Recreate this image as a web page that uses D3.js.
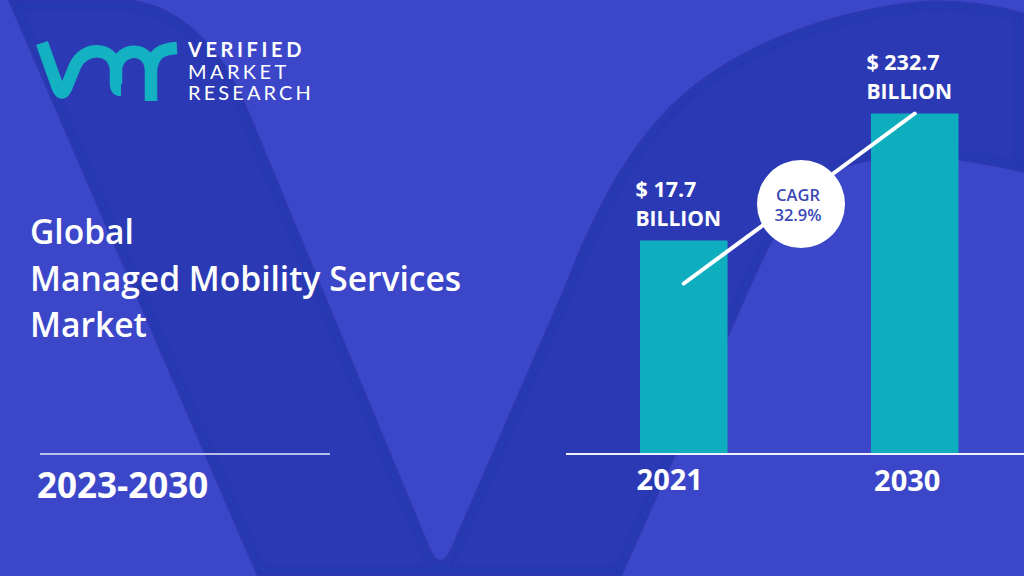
<!DOCTYPE html>
<html>
<head>
<meta charset="utf-8">
<title>Managed Mobility Services Market</title>
<script src="https://cdn.jsdelivr.net/npm/d3@7/dist/d3.min.js"></script>
<style>
    html, body { margin: 0; padding: 0; background: #3b47c8; overflow: hidden; }
    svg { display: block; }
    text { font-family: "Open Sans", sans-serif; fill: #fff; }
</style>
</head>
<body>
<div id="chart"></div>
<script>
// chart values
var aYears = ["2021", "2030"];
var aValues = [17.7, 232.7];
var aTitle = ["Global", "Managed Mobility Services", "Market"];
var aLogoWords = ["VERIFIED", "MARKET", "RESEARCH"];
var sPeriod = "2023-2030";
var aCagr = ["CAGR", "32.9%"];
var sUnit = "BILLION";

var iWidth = 1024;
var iHeight = 576;
var iBase = 454;

var dSVG = d3.select("#chart").append("svg")
    .attr("width", iWidth)
    .attr("height", iHeight);

var dDefs = dSVG.append("defs");
dDefs.append("filter").attr("id", "soft")
    .attr("x", "-10%").attr("y", "-10%").attr("width", "120%").attr("height", "120%")
    .append("feGaussianBlur").attr("stdDeviation", 6);

// background: big dark "V" swoosh behind everything
var sSwoosh = "M8,0 L133,0 C170,6 200,28 225,65 C233,78 240,92 247,107 L430,548 Q440,572 451,548 L564,288 " +
    "C585,235 620,150 680,97 C730,52 810,15 912,2 C950,-2 990,3 1024,13 L1024,173 " +
    "C930,150 870,155 832,173 C790,200 768,248 750,288 L622,576 L257,576 Z";

dDefs.append("clipPath").attr("id", "swooshClip").append("path").attr("d", sSwoosh);

dSVG.append("rect").attr("width", iWidth).attr("height", iHeight).attr("fill", "#3b47c8");
dSVG.append("path").attr("d", sSwoosh).attr("fill", "#2b3ab4");
dSVG.append("g").attr("clip-path", "url(#swooshClip)")
    .append("path").attr("d", sSwoosh)
    .attr("fill", "none")
    .attr("stroke", "#22309f")
    .attr("stroke-width", 8)
    .attr("stroke-opacity", 0.3)
    .attr("filter", "url(#soft)");

// logo
var dLogo = dSVG.append("g");
dLogo.append("path")
    .attr("d", "M42,43 L58,88 Q62,97 66,88 L75,66 C84,46 112,46 116,68 L116,84 Q116,90 121,90 " +
        "M116,68 C120,46 150,46 151,70 L151,101 M151,70 C153,54 160,49 177,48")
    .attr("fill", "none")
    .attr("stroke", "#14b1c2")
    .attr("stroke-width", 12.5);

var aLogoY = [57, 79, 100];
var aLogoSpacing = [3.6, 3.4, 3.1];
dLogo.selectAll("text").data(aLogoWords).enter().append("text")
    .attr("x", 188)
    .attr("y", function(d, i) { return aLogoY[i]; })
    .style("font-family", "Lato, sans-serif")
    .style("font-size", "20px")
    .style("font-weight", function(d, i) { return i === 0 ? 700 : 400; })
    .style("letter-spacing", function(d, i) { return aLogoSpacing[i] + "px"; })
    .text(function(d) { return d; });

// title block
dSVG.append("g").selectAll("text").data(aTitle).enter().append("text")
    .attr("x", 30)
    .attr("y", function(d, i) { return 244 + i * 46.5; })
    .style("font-size", "33.6px")
    .style("font-weight", 600)
    .text(function(d) { return d; });

dSVG.append("line")
    .attr("x1", 40).attr("x2", 330)
    .attr("y1", iBase).attr("y2", iBase)
    .attr("stroke", "#e8eaf8")
    .attr("stroke-width", 1.5);

dSVG.append("text")
    .attr("x", 37).attr("y", 498)
    .style("font-size", "35px")
    .style("font-weight", 700)
    .text(sPeriod);

// bars
var x = d3.scaleBand().domain(aYears).range([640, 958.5]).paddingInner(0.621).paddingOuter(0);

// the bars are not to scale in the source, so the scale goes through both bar tops
var y = d3.scaleLinear().domain([0, aValues[0], aValues[1]]).range([iBase, 240.5, 113.5]);

dSVG.append("g").selectAll("rect").data(aValues).enter().append("rect")
    .attr("x", function(d, i) { return x(aYears[i]); })
    .attr("y", function(d) { return y(d); })
    .attr("width", x.bandwidth())
    .attr("height", function(d) { return iBase - y(d); })
    .attr("fill", "#0eaebf");

// axis
dSVG.append("line")
    .attr("x1", 566).attr("x2", iWidth)
    .attr("y1", iBase).attr("y2", iBase)
    .attr("stroke", "#f0f1fb")
    .attr("stroke-width", 2);

var aTickShift = [-14, -7.5];
var aTickDrop = [0, 1];
var dAxis = dSVG.append("g")
    .attr("transform", "translate(0," + iBase + ")")
    .call(d3.axisBottom(x).tickSize(0));
dAxis.select(".domain").remove();
dAxis.selectAll("text")
    .attr("dx", function(d, i) { return aTickShift[i]; })
    .attr("y", function(d, i) { return 36 + aTickDrop[i]; })
    .attr("dy", 0)
    .style("font-family", "'Open Sans', sans-serif")
    .style("font-size", "29px")
    .style("font-weight", 700)
    .style("fill", "#fff");

// value labels sit above the bars, two lines each
var dLabels = dSVG.append("g").selectAll("g").data(aValues).enter().append("g");
dLabels.append("text")
    .attr("x", function(d, i) { return x(aYears[i]) - 4.5; })
    .attr("y", function(d) { return y(d) - 44; })
    .style("font-size", "21.5px").style("font-weight", 700)
    .text(function(d) { return "$ " + d; });
dLabels.append("text")
    .attr("x", function(d, i) { return x(aYears[i]) - 4.5; })
    .attr("y", function(d) { return y(d) - 15; })
    .style("font-size", "21px").style("font-weight", 700)
    .text(sUnit);

// growth line and badge
var fMid = function(i) { return x(aYears[i]) + x.bandwidth() / 2; };
dSVG.append("line")
    .attr("x1", fMid(0)).attr("y1", y(aValues[0]) + 43)
    .attr("x2", fMid(1)).attr("y2", y(aValues[1]))
    .attr("stroke", "#fff")
    .attr("stroke-width", 4)
    .attr("stroke-linecap", "round");

dSVG.append("circle").attr("cx", 801).attr("cy", 204).attr("r", 44).attr("fill", "#fff");

dSVG.append("g").selectAll("text").data(aCagr).enter().append("text")
    .attr("x", 798)
    .attr("y", function(d, i) { return 201 + i * 20; })
    .attr("text-anchor", "middle")
    .style("font-size", "16.5px").style("font-weight", 600)
    .style("fill", "#3b47b4")
    .text(function(d) { return d; });
</script>
</body>
</html>
